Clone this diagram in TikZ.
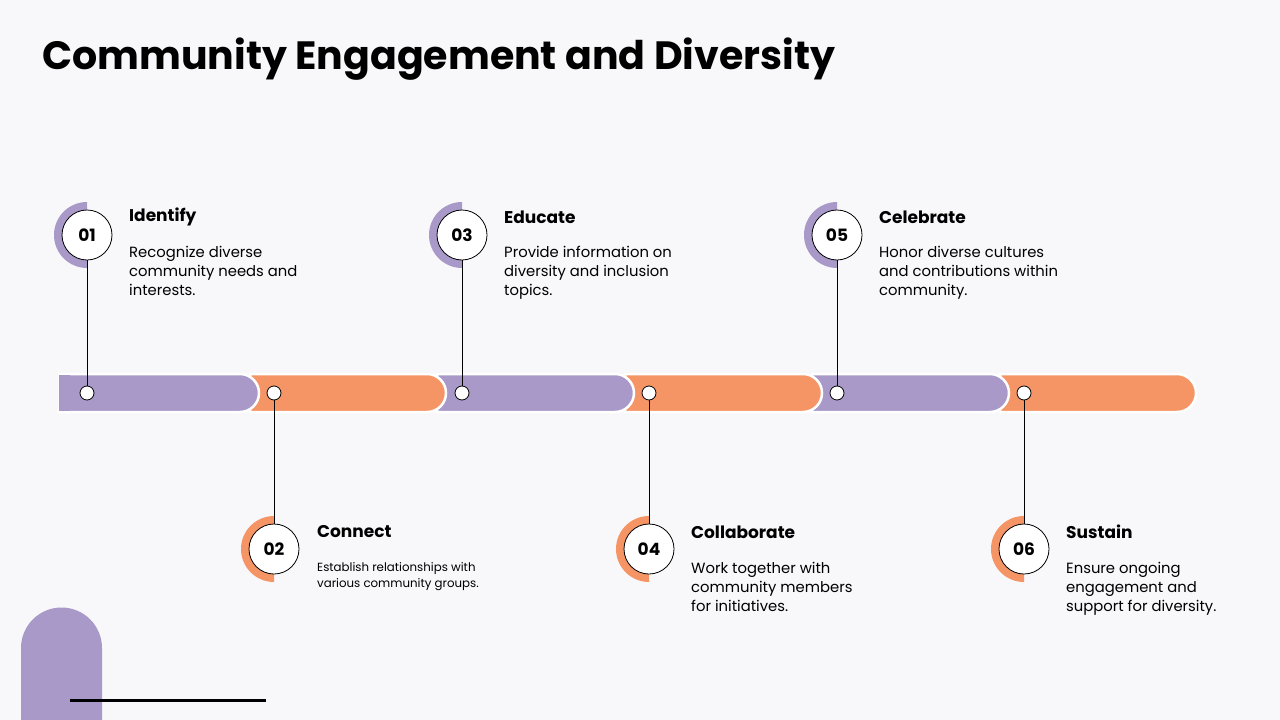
\documentclass[tikz,border=0pt]{standalone}
\usepackage{fontspec}
\setmainfont{Poppins}
\definecolor{bg}{HTML}{F8F8FA}
\definecolor{pur}{HTML}{A899C8}
\definecolor{org}{HTML}{F59566}
\tikzset{
  seg/.style={draw=white,line width=2.5pt},
  numc/.style={circle,draw=black,fill=white,line width=0.8pt,minimum size=50pt,inner sep=0pt,font=\fontsize{17}{20}\selectfont\bfseries},
  dot/.style={circle,draw=black,fill=white,line width=0.8pt,minimum size=14pt,inner sep=0pt},
  head/.style={anchor=west,inner sep=0pt,font=\fontsize{17}{20}\selectfont\bfseries},
  desc/.style={anchor=north west,inner sep=0pt,align=left,font=\fontsize{14.8}{19}\selectfont},
  descs/.style={anchor=north west,inner sep=0pt,align=left,font=\fontsize{11.8}{16}\selectfont}
}
\begin{document}
\begin{tikzpicture}[x=1pt,y=-1pt]
\fill[bg] (0,0) rectangle (1280,720);
\useasboundingbox (0,0) rectangle (1280,720);
\node[anchor=base west,inner sep=0pt,font=\fontsize{39.5}{44}\selectfont\bfseries] (title) at (42,69) {Community Engagement and Diversity};
% bar segments, right to left
\foreach \a/\b/\c in {1000/1196/org,812/1009/pur,625/822/org,437/634/pur,250/446/org}{
  \fill[\c,seg] (\a,374) -- (\b-19,374) arc[start angle=-90,end angle=90,radius=19] -- (\a,412) -- cycle;
}
\fill[pur,seg] (59,374) -- (240,374) arc[start angle=-90,end angle=90,radius=19] -- (59,412) -- cycle;
\fill[pur] (59,375.3) rectangle (70,410.7);
% items
\foreach \n/\x/\y/\c in {01/87/235/pur,02/274/549/org,03/462/235/pur,04/649/549/org,05/837/235/pur,06/1024/549/org}{
  \fill[\c] (\x,\y-33) arc[start angle=-90,end angle=-270,radius=33] -- cycle;
  \node[numc] (c\n) at (\x,\y) {\n};
  \node[dot] (d\n) at (\x,393) {};
  \draw[line width=0.8pt] (c\n) -- (d\n);
}
\node[head] (h1) at (129,217) {Identify};
\node[desc] (t1) at (129,246) {Recognize diverse\\community needs and\\interests.};
\node[head] (h3) at (504,217) {Educate};
\node[desc] (t3) at (504,246) {Provide information on\\diversity and inclusion\\topics.};
\node[head] (h5) at (879,217) {Celebrate};
\node[desc] (t5) at (879,246) {Honor diverse cultures\\and contributions within\\community.};
\node[head] (h2) at (317,532) {Connect};
\node[descs] (t2) at (317,562) {Establish relationships with\\various community groups.};
\node[head] (h4) at (691,532) {Collaborate};
\node[desc] (t4) at (691,562) {Work together with\\community members\\for initiatives.};
\node[head] (h6) at (1066,532) {Sustain};
\node[desc] (t6) at (1066,562) {Ensure ongoing\\engagement and\\support for diversity.};
% decoration
\fill[pur] (21,720) -- (21,648) arc[start angle=180,end angle=360,radius=40.5] -- (102,720) -- cycle;
\draw[line width=3pt] (70,700) -- (266,700);
\end{tikzpicture}
\end{document}
